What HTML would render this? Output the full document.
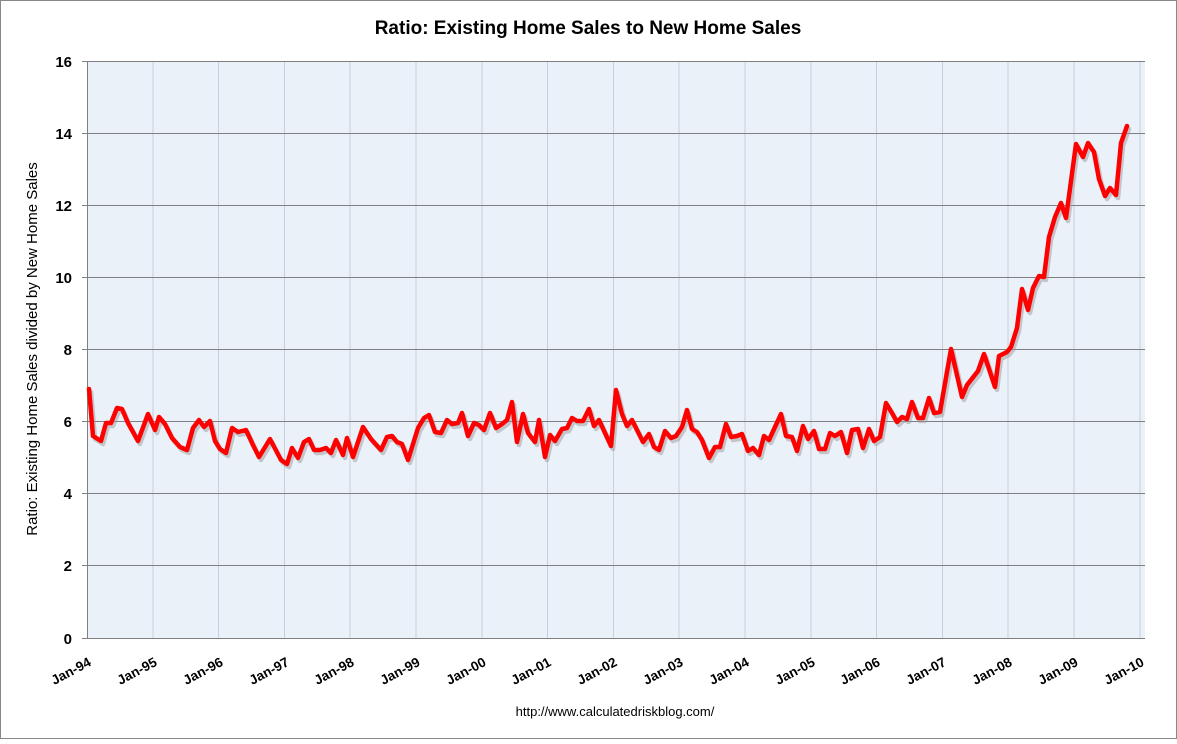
<!DOCTYPE html>
<html><head><meta charset="utf-8"><style>
body{margin:0;background:#fff;}
svg text{font-family:"Liberation Sans",sans-serif;}
</style></head><body>
<svg width="1177" height="739" viewBox="0 0 1177 739" xmlns="http://www.w3.org/2000/svg">
<rect x="0.5" y="0.5" width="1176" height="738" fill="#fff" stroke="#888"/>
<text x="588" y="34" text-anchor="middle" font-size="19" font-weight="bold">Ratio: Existing Home Sales to New Home Sales</text>
<rect x="87" y="61" width="1058" height="577" fill="#eaf1f9"/>
<g stroke="#c6d0dc" stroke-width="1">
<line x1="153" y1="61" x2="153" y2="638"/><line x1="218.5" y1="61" x2="218.5" y2="638"/><line x1="284.5" y1="61" x2="284.5" y2="638"/><line x1="350" y1="61" x2="350" y2="638"/><line x1="416" y1="61" x2="416" y2="638"/><line x1="482" y1="61" x2="482" y2="638"/><line x1="547.5" y1="61" x2="547.5" y2="638"/><line x1="613.5" y1="61" x2="613.5" y2="638"/><line x1="679" y1="61" x2="679" y2="638"/><line x1="745" y1="61" x2="745" y2="638"/><line x1="811" y1="61" x2="811" y2="638"/><line x1="876.5" y1="61" x2="876.5" y2="638"/><line x1="942.5" y1="61" x2="942.5" y2="638"/><line x1="1008" y1="61" x2="1008" y2="638"/><line x1="1074" y1="61" x2="1074" y2="638"/><line x1="1140" y1="61" x2="1140" y2="638"/>
</g>
<g stroke="#808080" stroke-width="1">
<line x1="82" y1="61.5" x2="1145" y2="61.5"/><line x1="82" y1="133.5" x2="1145" y2="133.5"/><line x1="82" y1="205.5" x2="1145" y2="205.5"/><line x1="82" y1="277.5" x2="1145" y2="277.5"/><line x1="82" y1="349.5" x2="1145" y2="349.5"/><line x1="82" y1="421.5" x2="1145" y2="421.5"/><line x1="82" y1="493.5" x2="1145" y2="493.5"/><line x1="82" y1="565.5" x2="1145" y2="565.5"/><line x1="82" y1="638.5" x2="1145" y2="638.5"/>
<line x1="87.5" y1="61" x2="87.5" y2="638"/>
</g>
<g font-size="15" font-weight="bold" text-anchor="end">
<text x="72" y="67">16</text><text x="72" y="139">14</text><text x="72" y="211">12</text><text x="72" y="283">10</text><text x="72" y="355">8</text><text x="72" y="427">6</text><text x="72" y="499">4</text><text x="72" y="571">2</text><text x="72" y="644">0</text>
</g>
<text transform="translate(37,349) rotate(-90)" text-anchor="middle" font-size="15">Ratio: Existing Home Sales divided by New Home Sales</text>
<g font-size="13.5" font-weight="bold" text-anchor="end">
<text transform="translate(92,665) rotate(-28)">Jan-94</text><text transform="translate(158,665) rotate(-28)">Jan-95</text><text transform="translate(224,665) rotate(-28)">Jan-96</text><text transform="translate(290,665) rotate(-28)">Jan-97</text><text transform="translate(355,665) rotate(-28)">Jan-98</text><text transform="translate(421,665) rotate(-28)">Jan-99</text><text transform="translate(487,665) rotate(-28)">Jan-00</text><text transform="translate(552,665) rotate(-28)">Jan-01</text><text transform="translate(618,665) rotate(-28)">Jan-02</text><text transform="translate(684,665) rotate(-28)">Jan-03</text><text transform="translate(750,665) rotate(-28)">Jan-04</text><text transform="translate(816,665) rotate(-28)">Jan-05</text><text transform="translate(881,665) rotate(-28)">Jan-06</text><text transform="translate(947,665) rotate(-28)">Jan-07</text><text transform="translate(1013,665) rotate(-28)">Jan-08</text><text transform="translate(1079,665) rotate(-28)">Jan-09</text><text transform="translate(1145,665) rotate(-28)">Jan-10</text>
</g>
<text x="615" y="716" text-anchor="middle" font-size="13">http://www.calculatedriskblog.com/</text>
<defs><polyline id="s" fill="none" stroke-width="4.5" stroke-linejoin="round" stroke-linecap="round" points="89,389 93,436 101,441 106,423 111,423 117,408 122,409 128,423 133,432 138,441 148,414 155,430 159,417 165,424 172,438 180,447 187,450 193,428 199,420 204,427 210,421 215,441 220,449 226,453 232,428 238,432 246,430 253,445 259,457 270,439 281,460 287,464 292,448 298,458 304,442 309,439 314,450 320,450 326,448 331,453 336,440 343,455 347,438 353,457 363,427 371,439 381,450 387,437 392,436 397,442 402,444 408,460 418,428 424,418 429,415 435,432 441,433 447,420 452,424 458,423 462,413 468,436 474,423 479,425 484,430 490,413 496,428 502,424 507,420 512,402 517,442 523,414 528,433 535,442 539,420 545,457 550,435 555,441 562,429 567,428 572,418 577,421 583,421 589,409 594,426 599,420 611,446 616,390 622,414 627,426 632,420 638,432 643,442 649,434 654,447 659,450 665,431 671,438 676,436 682,427 687,410 692,429 697,432 702,440 709,458 715,447 720,447 726,424 731,437 737,436 742,434 748,451 753,448 759,455 764,436 769,440 781,414 786,436 792,437 797,451 803,426 808,439 814,431 819,449 825,449 830,433 835,436 841,432 847,453 852,430 858,429 863,448 869,429 874,441 880,437 886,403 892,413 897,422 902,417 907,419 912,402 918,418 923,418 929,398 934,413 940,412 951,349 962,397 967,385 978,371 984,354 995,387 999,356 1007,352 1011,347 1017,328 1022,289 1028,310 1033,288 1039,276 1044,277 1049,237 1055,217 1061,203 1066,218 1076,144 1083,157 1088,143 1094,152 1099,179 1105,196 1110,188 1116,195 1121,143 1127,126"/></defs>
<use href="#s" stroke="#9a9a9a" opacity="0.5" transform="translate(2,3)"/>
<use href="#s" stroke="#ff0000"/>
</svg>
</body></html>
